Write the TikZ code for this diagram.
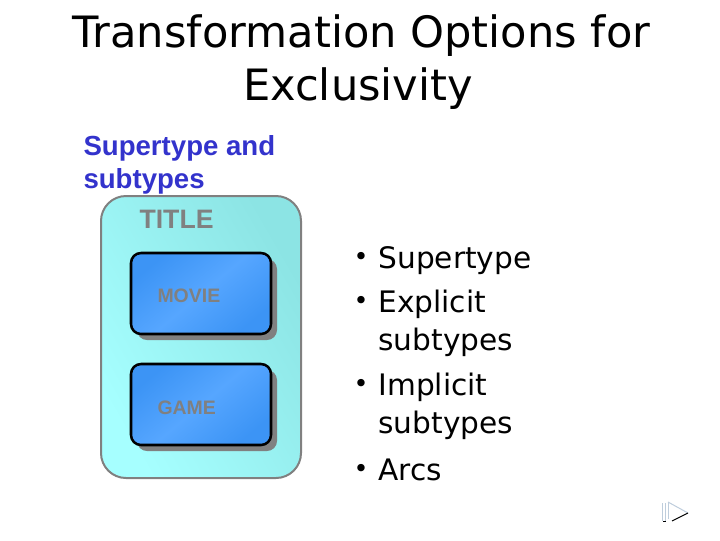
\documentclass[tikz,border=0pt]{standalone}
\usepackage{fontspec}
\setmainfont{DejaVu Sans}
\newfontfamily\arialfont{Liberation Sans}
\usetikzlibrary{shadows}

\definecolor{labelblue}{RGB}{51,51,204}
\definecolor{labelgray}{RGB}{128,128,128}
\definecolor{cyanA}{RGB}{140,228,228}
\definecolor{cyanB}{RGB}{166,255,255}
\definecolor{blueA}{RGB}{60,148,245}
\definecolor{blueB}{RGB}{86,166,255}
\definecolor{navgray}{RGB}{190,205,220}

\tikzset{every picture/.style={line width=0.75pt}}
\tikzset{
  entitybox/.style={draw=black, line width=1.9pt, rounded corners=7.5pt, inner sep=0pt,
    minimum width=105pt, minimum height=60.75pt,
    left color=blueA, right color=blueA, middle color=blueB, shading angle=40,
    general shadow={fill=labelgray, shadow xshift=4.5pt, shadow yshift=-4.5pt}},
  entitytext/.style={anchor=base west, inner sep=0pt, text=labelgray, font=\arialfont\bfseries\fontsize{14.6}{17}\selectfont},
  bullettext/.style={anchor=base west, inner sep=0pt, font=\fontsize{22.2}{26}\selectfont},
  bulletdot/.style={inner sep=0pt, font=\fontsize{19}{22}\selectfont},
}

\begin{document}
\begin{tikzpicture}[x=0.75pt,y=0.75pt,yscale=-1,xscale=1]
\useasboundingbox (0,0) rectangle (720,540);

% Title
\node (title1) at (361.5,47) [anchor=base, inner sep=0pt, font=\fontsize{32.4}{39}\selectfont] {Transformation Options for};
\node (title2) at (358,100) [anchor=base, inner sep=0pt, font=\fontsize{32.4}{39}\selectfont] {Exclusivity};

% Left label
\node (suplabel1) at (83,155) [anchor=base west, inner sep=0pt, text=labelblue, font=\arialfont\bfseries\fontsize{20.7}{24}\selectfont] {Supertype and};
\node (suplabel2) at (83,188) [anchor=base west, inner sep=0pt, text=labelblue, font=\arialfont\bfseries\fontsize{20.7}{24}\selectfont] {subtypes};

%Rounded Rect: supertype
\node (title) at (201,337) [draw=labelgray, line width=1.5pt, rounded corners=18.75pt, inner sep=0pt,
  minimum width=150pt, minimum height=211.5pt,
  left color=cyanA, right color=cyanB, shading angle=-60] {};
\node (titletext) at (139,228) [anchor=base west, inner sep=0pt, text=labelgray, font=\arialfont\bfseries\fontsize{20}{22}\selectfont] {TITLE};

%Rounded Rect: subtypes
\node (movie) at (201,293.5) [entitybox] {};
\node (game) at (201,404.5) [entitybox] {};
\node (movietext) at (157,302) [entitytext] {MOVIE};
\node (gametext) at (157,414) [entitytext] {GAME};

% Bullets
\foreach \y/\txt/\dot in {268/Supertype/1, 312/Explicit/1, 350/subtypes/0, 395/Implicit/1, 433/subtypes/0, 480/Arcs/1} {
  \node at (378,\y) [bullettext] {\txt};
  \ifnum\dot=1 \node at (361,\y-9) [bulletdot] {\textbullet}; \fi
}

% Navigation icon
\draw [navgray] (662,503) -- (662,521) ;
\draw [navgray] (665,503) -- (665,521) ;
\draw [navgray] (668,502) -- (668,519) ;
\draw [navgray] (668,502) -- (688,513) ;
\draw [black] (688,513) -- (672,521) ;
\draw [black] (663,521.5) -- (666,521.5) ;

\end{tikzpicture}
\end{document}
